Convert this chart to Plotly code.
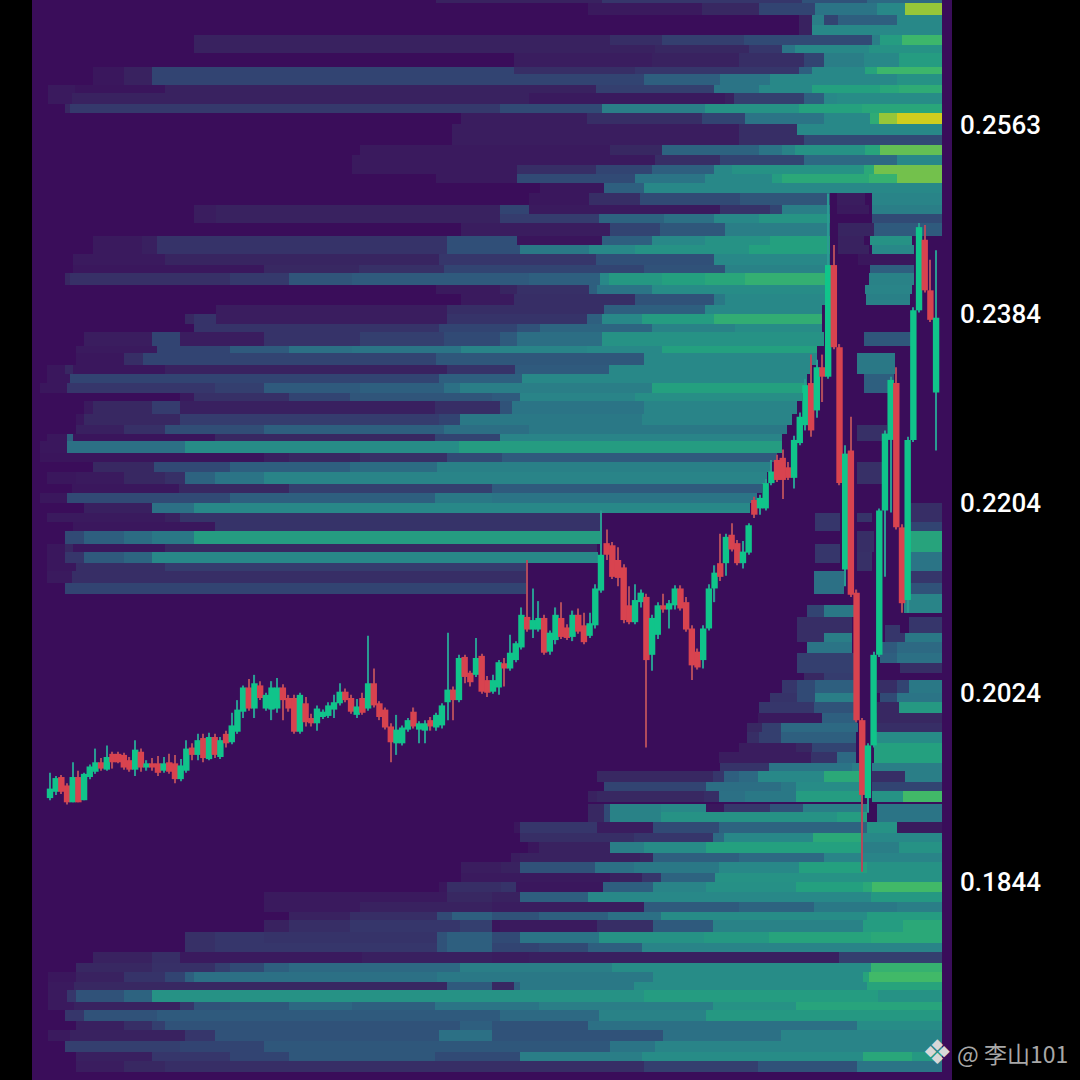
import plotly.graph_objects as go

# price band edges, top to bottom, in units of 0.0001
band_edges = [2681.6,2678.8,2667.4,2657.9,2648.4,2638.9,2631.3,2618.0,2611.4,2600.9,2593.3,2582.9,2574.3,2563.9,2553.4,
2544.0,2534.5,2525.0,2516.4,2507.9,2498.4,2487.0,2478.4,2469.9,2457.6,2449.0,2440.5,2430.0,2422.4,2411.0,2402.5,2392.1,
2383.5,2374.0,2366.4,2353.1,2346.5,2335.1,2326.6,2318.0,2308.5,2300.9,2288.6,2278.1,2269.6,2263.0,2251.6,2243.0,2233.5,
2222.1,2213.6,2204.1,2194.6,2186.1,2177.5,2165.2,2157.6,2147.2,2139.5,2128.2,2117.7,2107.3,2099.7,2095.9,2088.3,2080.7,
2072.1,2061.7,2052.2,2042.7,2036.1,2023.7,2015.2,2004.8,1995.3,1986.7,1976.3,1967.7,1957.3,1949.7,1939.2,1930.7,1920.3,
1918.4,1910.8,1901.3,1890.8,1882.3,1871.9,1863.3,1852.9,1844.3,1834.8,1825.3,1815.8,1808.2,1796.9,1786.4,1777.9,1767.4,1758.9,
1749.4,1741.8,1730.4,1722.8,1712.4,1703.8,1693.4,1683.0,1674.4,1664.0,1656.4]

# per band: (time, intensity) steps; each holds until the next step
heat_rows = [
[(404,.08),(570,.15),(770,.25),(835,.35)],
[(556,.05),(670,.1),(727,.2),(783,.4),(845,.5),(873,.92)],
[(767,.08),(780,.45),(792,.2),(806,.3),(865,.5)],
[(767,.08),(780,.5)],
[(162,.08),(578,.12),(630,.18),(712,.22),(840,.45),(848,.6),(870,.78)],
[(162,.08),(623,.1),(717,.15),(750,.4),(763,.5),(837,.55)],
[(482,.06),(620,.08),(707,.12),(772,.2),(792,.45),(832,.5),(867,.6)],
[(61,.04),(92,.08),(120,.2),(482,.12),(603,.15),(767,.3),(780,.5),(833,.65),(845,.78)],
[(61,.04),(92,.08),(120,.2),(612,.3),(688,.4),(738,.5),(865,.55)],
[(16,.05),(43,.03),(133,.08),(564,.18),(682,.4),(727,.5),(780,.62),(848,.68),(867,.72)],
[(16,.05),(40,.08),(497,.05),(693,.08),(702,.18),(772,.3),(792,.5),(805,.52)],
[(33,.1),(38,.16),(468,.22),(570,.45),(673,.55),(767,.63),(830,.68)],
[(429,.06),(555,.12),(670,.2),(713,.4),(792,.5),(838,.72),(847,.92),(865,1)],
[(420,.06),(707,.12),(765,.5)],
[(420,.06),(707,.12),(772,.22)],
[(328,.05),(578,.1),(630,.32),(727,.4),(750,.47),(763,.55),(833,.66),(848,.85)],
[(320,.05),(623,.12),(688,.2),(772,.35),(865,.5)],
[(320,.05),(485,.12),(564,.2),(620,.3),(682,.5),(700,.55),(832,.7),(842,.87)],
[(404,.05),(485,.22),(603,.4),(673,.5),(740,.6),(750,.7),(837,.75),(865,.87)],
[(508,.04),(572,.3),(612,.5)],
[(497,.04),(557,.12),(608,.22),(708,.26),(798,0),(805,.06),(833,0),(840,.48)],
[(162,.06),(184,.08),(468,.2),(497,.05),(688,.14),(738,.2),(750,.45),(798,0),(805,.05),(837,0),(840,.45)],
[(162,.06),(184,.08),(468,.17),(567,.32),(632,.38),(682,.5),(727,.56),(798,0),(840,.22)],
[(429,.06),(578,.2),(628,.27),(693,.45),(798,0),(806,.09),(842,.28)],
[(61,.05),(110,.07),(125,.14),(415,.24),(485,.03),(570,.3),(620,.5),(673,.55),(738,.62),(798,0),(806,.08),(832,0),(838,.55),(880,0)],
[(61,.05),(110,.07),(125,.14),(415,.24),(488,.42),(557,.5),(603,.55),(717,.62),(798,0),(806,.08),(837,0),(840,.5),(882,0)],
[(41,.05),(133,.09),(407,.15),(564,.24),(682,.5),(798,0),(826,.04),(882,0)],
[(41,.04),(232,.1),(327,.13),(412,.2),(612,.25),(693,.47),(798,0),(838,.3),(882,0)],
[(33,.1),(38,.13),(198,.16),(257,.26),(320,.28),(497,.3),(568,.5),(577,.58),(630,.62),(673,.68),(713,.74),(795,0),(837,.47),(882,0)],
[(404,.05),(468,.09),(485,.13),(557,.3),(565,.4),(620,.52),(795,0),(833,.48),(880,0)],
[(429,.05),(482,.12),(603,.25),(682,.42),(693,.5),(795,0),(834,.46),(878,0)],
[(184,.06),(415,.12),(572,.3),(673,.5),(790,0)],
[(153,.1),(162,.14),(184,.06),(415,.14),(555,.3),(570,.5),(610,.6),(682,.73),(790,0)],
[(162,.14),(407,.2),(485,.25),(508,.33),(620,.47),(703,.52),(790,0)],
[(52,.06),(120,.2),(148,.06),(232,.14),(328,.18),(412,.22),(468,.28),(485,.37),(570,.55),(792,0),(832,.27),(880,0)],
[(44,.05),(125,.2),(198,.28),(257,.38),(320,.4),(429,.48),(555,.5),(630,.62),(785,0)],
[(44,.04),(92,.12),(111,.2),(404,.27),(612,.5),(785,0),(825,.42),(863,0)],
[(15,.04),(33,.1),(41,.04),(133,.08),(415,.14),(483,.28),(577,.5),(780,0),(825,.42),(863,0)],
[(15,.04),(38,.2),(407,.3),(490,.5),(775,0),(832,.3),(862,0)],
[(8,.04),(35,.15),(183,.18),(232,.28),(328,.3),(412,.38),(428,.45),(620,.62),(775,0),(832,.3),(862,0)],
[(148,.05),(162,.13),(257,.2),(318,.26),(460,.28),(488,.48),(603,.53),(770,0)],
[(52,.05),(61,.1),(120,.17),(148,.07),(403,.12),(468,.25),(480,.4),(612,.48),(765,0)],
[(44,.04),(52,.1),(148,.17),(407,.2),(428,.42),(610,.48),(760,0)],
[(44,.07),(92,.13),(133,.23),(232,.3),(412,.37),(497,.42),(755,0),(825,.13),(855,0)],
[(15,.04),(35,.3),(41,.03),(183,.1),(403,.2),(468,.48),(750,0),(825,.13),(855,0)],
[(8,.04),(35,.38),(153,.52),(427,.6),(750,0)],
[(8,.03),(232,.07),(257,.1),(328,.13),(415,.22),(470,.28),(745,0)],
[(61,.1),(122,.22),(198,.3),(318,.36),(405,.46),(740,0),(825,.13),(850,0)],
[(15,.04),(44,.05),(92,.1),(133,.13),(153,.32),(183,.4),(232,.48),(735,0),(825,.13),(850,0)],
[(40,.04),(147,.1),(257,.18),(460,.28),(730,0)],
[(8,.04),(35,.22),(198,.3),(403,.42),(460,.4),(725,0)],
[(52,.07),(120,.38),(162,.5),(718,0),(877,.12)],
[(15,.05),(133,.08),(148,.14),(568,0),(783,.15),(808,0),(825,.14),(840,0),(877,.12)],
[(41,.04),(183,.14),(568,0),(783,.15),(808,0),(877,.2)],
[(33,.22),(52,.3),(92,.36),(120,.42),(162,.6),(570,0),(825,.12),(842,0),(877,.65)],
[(15,.04),(33,.1),(41,.04),(133,.1),(565,0),(783,.15),(808,0),(825,.12),(842,0),(877,.65)],
[(15,.04),(33,.15),(52,.28),(92,.33),(120,.5),(566,0),(783,.15),(808,0),(825,.13),(840,0),(877,.4)],
[(15,.04),(44,.12),(133,.17),(496,0),(825,.13),(840,0),(877,.4)],
[(15,.05),(40,.12),(496,0),(782,.38),(812,0),(877,.15)],
[(33,.2),(496,0),(782,.38),(812,0),(877,.25)],
[(872,.48)],
[(775,.2),(792,.42),(822,0),(872,.48)],
[(775,.2),(792,.42),(822,0)],
[(765,.12),(820,0),(877,.15)],
[(765,.12),(820,0),(853,.15),(868,0),(877,.15)],
[(765,.12),(792,.45),(820,0),(853,.15),(873,.42)],
[(775,.4),(820,0),(848,.28),(865,.35)],
[(765,.18),(822,0),(848,.3),(865,.38)],
[(765,.18),(822,0),(868,.12)],
[(772,.1),(792,.17),(822,0)],
[(750,.15),(765,.22),(783,.3),(822,0),(845,.12),(865,.2),(877,.42)],
[(738,.14),(765,.22),(783,.45),(822,0),(848,.22),(865,.4)],
[(727,.15),(782,.25),(825,0),(845,.1),(867,.58)],
[(726,.05),(790,.3),(825,0),(842,.1)],
[(715,.1),(730,.18),(749,.35),(826,0),(842,.12)],
[(715,.12),(727,.18),(749,.3),(824,0),(842,.52)],
[(707,.06),(764,.1),(780,.2),(824,0),(842,.62)],
[(687,.06),(779,.14),(805,.35),(824,0),(842,.62)],
[(688,.14),(737,.4),(820,.45),(830,0),(840,.45)],
[(565,.1),(681,.15),(692,.3),(707,.35),(726,.5),(792,.7),(830,0),(840,.12),(873,.45)],
[(572,.2),(674,.37),(749,.42),(764,.52),(830,0),(840,.2)],
[(556,.08),(565,.1),(672,.12),(687,.38),(713,.42),(764,.6),(830,0),(840,.55),(871,.8)],
[],
[(556,.1),(572,.22),(578,.47),(629,.5),(674,.04),(692,.15),(738,.25),(771,.45),(835,0),(845,.4)],
[(556,.1),(572,.22),(578,.47),(629,.55),(805,.6),(835,0),(845,.4)],
[(482,.04),(488,.15),(565,.06),(621,.22),(687,.32),(835,.55),(865,.05)],
[(488,.12),(602,.15),(681,.35),(692,.5),(781,.7),(831,.5)],
[(496,.04),(507,.08),(578,.45),(612,.52),(674,.62),(831,.45),(867,.55)],
[(479,.06),(488,.08),(608,.1),(621,.3),(707,.35),(792,.48)],
[(429,.06),(469,.08),(488,.25),(563,.38),(602,.42),(687,.5),(767,.62),(835,.55)],
[(429,.05),(578,.08),(610,.15),(629,.32),(683,.55)],
[(407,.04),(415,.12),(469,.14),(484,.04),(571,.3),(621,.48),(674,.54),(764,.62),(831,.7),(840,.8)],
[(232,.05),(407,.05),(415,.1),(460,.08),(488,.3),(556,.5),(839,.58)],
[(232,.05),(328,.08),(460,.06),(612,.28),(707,.32),(782,.42),(865,.45)],
[(257,.08),(318,.12),(405,.22),(420,.3),(460,.25),(507,.3),(576,.38),(629,.52),(835,.6)],
[(232,.08),(257,.12),(318,.15),(428,.18),(460,.03),(468,.05),(565,.12),(621,.28),(681,.47),(831,.6),(871,.7)],
[(153,.13),(183,.15),(232,.14),(405,.25),(415,.3),(460,.22),(488,.4),(567,.55),(672,.58),(737,.65),(839,.7)],
[(153,.13),(183,.15),(405,.25),(415,.3),(460,.2),(507,.22),(556,.3),(610,.48)],
[(61,.08),(120,.12),(148,.05),(330,.07),(460,.06),(497,.07),(807,.18)],
[(44,.1),(120,.13),(183,.18),(198,.22),(232,.3),(257,.35),(428,.45),(580,.52),(839,.75)],
[(16,.04),(44,.08),(92,.14),(133,.2),(153,.3),(162,.38),(405,.42),(621,.52),(831,.65),(837,.8)],
[(16,.05),(42,.1),(415,.28),(460,.1),(482,.3),(488,.42),(602,.52),(835,.65)],
[(16,.05),(35,.15),(44,.25),(92,.32),(120,.55),(612,.6),(846,.55)],
[(16,.05),(42,.08),(148,.15),(162,.25),(198,.27),(257,.34),(320,.3),(403,.4),(507,.45),(681,.55),(764,.66)],
[(33,.15),(52,.25),(125,.28),(468,.35),(567,.47),(674,.58)],
[(44,.07),(92,.12),(120,.18),(133,.25),(428,.3),(460,.25),(556,.38),(825,.52)],
[(16,.05),(38,.08),(153,.15),(183,.25),(407,.38),(460,.25),(631,.38),(749,.48)],
[(33,.18),(148,.2),(232,.27),(578,.4),(623,.48)],
[(44,.07),(120,.15),(198,.2),(257,.27),(403,.22),(488,.45),(610,.52),(831,.68),(880,.58)],
[(44,.06),(92,.1),(133,.12),(612,.18),(726,.25),(825,.4)],
[],
]
assert len(heat_rows) == len(band_edges) - 1, (len(heat_rows), len(band_edges))

opens = [1924,1930,1944,1936,1920,1944,1922,1944,1949,1958,1951,1966,1966,1965,1960,1951,1968,1953,1957,1957,
1950,1958,1957,1942,1950,1972,1965,1981,1961,1982,1963,1985,1977,1987,2006,2029,2009,2031,2009,2008,
2009,2029,2019,2019,1987,2014,2000,1995,2001,2002,2008,2014,2025,2019,2003,2019,2009,2033,2014,2008,
1992,1976,1976,1989,2006,1989,1988,1998,1991,1993,2015,2027,2017,2058,2043,2041,2059,2036,2025,2029,
2052,2047,2055,2067,2096,2084,2084,2095,2063,2074,2095,2086,2077,2098,2088,2078,2088,2121,2166,2164,
2150,2143,2107,2091,2110,2115,2060,2079,2107,2103,2107,2123,2110,2085,2063,2055,2085,2123,2147,2147,
2174,2166,2147,2157,2207,2199,2199,2223,2245,2247,2238,2228,2261,2278,2318,2292,2333,2324,2430,2352,
2141,2254,2119,1998,1924,1974,2060,2197,2264,2318,2181,2112,2264,2387,2454,2406,2309]
highs = [1948,1945,1946,1938,1958,1950,1948,1956,1971,1962,1974,1968,1968,1967,1963,1979,1971,1960,1962,1964,
1963,1966,1965,1961,1979,1976,1985,1985,1986,1985,1982,1988,2005,2017,2031,2037,2041,2035,2024,2035,
2038,2032,2022,2022,2024,2020,2004,2012,2008,2015,2022,2033,2028,2022,2018,2024,2078,2047,2016,2010,
1995,2003,1993,2000,2010,1997,1998,2001,2005,2014,2081,2030,2060,2060,2045,2076,2061,2040,2041,2055,
2057,2079,2073,2105,2150,2123,2111,2098,2083,2105,2110,2089,2102,2104,2100,2100,2127,2197,2179,2167,
2162,2146,2125,2127,2122,2118,2098,2110,2118,2112,2126,2126,2115,2088,2066,2088,2127,2145,2175,2175,
2185,2169,2168,2185,2210,2212,2227,2245,2250,2255,2243,2268,2290,2322,2345,2340,2345,2498,2449,2355,
2259,2286,2122,2000,1976,2063,2199,2273,2324,2333,2184,2267,2390,2470,2468,2435,2444]
lows = [1922,1927,1928,1918,1920,1920,1922,1942,1947,1950,1950,1952,1957,1951,1949,1945,1949,1950,1950,1945,
1948,1947,1938,1940,1948,1960,1960,1958,1960,1962,1961,1972,1975,1985,2000,2007,2000,2017,2007,1998,
2005,1998,2006,1985,1985,1992,1992,1988,1999,2000,2000,2012,2015,2004,2000,2003,2007,2010,1998,1989,
1958,1965,1974,1987,1990,1976,1976,1988,1988,1990,1998,1998,2015,2033,2030,2039,2023,2020,2023,2022,
2030,2045,2053,2065,2082,2076,2082,2060,2060,2070,2075,2074,2073,2080,2070,2076,2085,2119,2150,2132,
2125,2090,2089,2089,2105,1972,2045,2075,2100,2085,2103,2102,2082,2036,2046,2047,2083,2110,2130,2135,
2158,2145,2142,2155,2190,2193,2197,2221,2224,2208,2226,2218,2259,2273,2267,2285,2300,2322,2350,2221,
2125,2115,1996,1854,1910,1972,2058,2134,2195,2179,2100,2100,2262,2385,2404,2376,2254]
closes = [1933,1943,1930,1920,1944,1920,1947,1954,1958,1952,1963,1958,1958,1953,1951,1970,1953,1957,1953,1948,
1957,1949,1942,1955,1971,1965,1979,1962,1982,1965,1979,1976,1993,2008,2029,2009,2033,2019,2022,2029,
2029,2017,2009,1987,2022,1996,1995,2009,2006,2012,2015,2025,2017,2006,2011,2005,2033,2012,2001,1991,
1977,1989,1991,1998,1992,1995,1995,1992,2003,2012,2027,2017,2057,2039,2034,2057,2025,2024,2036,2053,
2047,2062,2071,2098,2084,2093,2095,2062,2081,2098,2077,2076,2098,2082,2072,2090,2123,2155,2155,2134,
2133,2093,2091,2112,2119,2055,2095,2107,2103,2109,2123,2104,2084,2050,2048,2085,2123,2138,2134,2172,
2160,2147,2158,2183,2193,2209,2223,2234,2226,2226,2228,2264,2286,2316,2273,2333,2324,2430,2352,2223,
2251,2117,1998,1927,1974,2060,2197,2270,2321,2181,2109,2264,2387,2466,2406,2378,2380]

tick_prices = [0.2563, 0.2384, 0.2204, 0.2024, 0.1844, 0.1665]
tick_labels = ["0.2563", "0.2384", "0.2204", "0.2024", "0.1844", "0.1665"]

first_bar_time = 18.0
bar_step = 5.68
heat_end = 910
GREEN, RED = "#10c48a", "#d8434f"
GREEN_WICK, RED_WICK = "#2a9a92", "#b04a5c"

bar_times = [first_bar_time + bar_step * i for i in range(len(opens))]

time_edges = sorted({0, heat_end} | {t for row in heat_rows for t, _ in row})
y_edges = [p / 10000 for p in reversed(band_edges)]
z = []
for row in reversed(heat_rows):
    cells = []
    for left in time_edges[:-1]:
        v = 0
        for t, val in row:
            if t <= left:
                v = val
        cells.append(v)
    z.append(cells)

colorscale = [[0, "#3a0d5a"], [0.05, "#3a1a5e"], [0.1, "#382862"], [0.15, "#36366b"], [0.22, "#314a75"],
              [0.3, "#2e5f7f"], [0.4, "#2b7486"], [0.5, "#288888"], [0.55, "#269285"], [0.62, "#24a07f"],
              [0.7, "#2ba878"], [0.8, "#41b968"], [0.9, "#88c440"], [1, "#d0cd1e"]]

up = [c >= o for o, c in zip(opens, closes)]
fig = go.Figure()
fig.add_trace(go.Heatmap(x=time_edges, y=y_edges, z=z, zmin=0, zmax=1, colorscale=colorscale,
                         showscale=False, hoverinfo="skip"))
# wicks, high to low
fig.add_trace(go.Bar(x=bar_times, base=[v / 10000 for v in lows], y=[(h - l) / 10000 for h, l in zip(highs, lows)],
                     width=1.2, marker=dict(color=[GREEN_WICK if u else RED_WICK for u in up], line=dict(width=0)),
                     hoverinfo="skip", showlegend=False))
# bodies, open to close
fig.add_trace(go.Bar(x=bar_times, base=[min(o, c) / 10000 for o, c in zip(opens, closes)],
                     y=[abs(c - o) / 10000 for o, c in zip(opens, closes)],
                     width=6.4, marker=dict(color=[GREEN if u else RED for u in up], line=dict(width=0)),
                     hoverinfo="skip", showlegend=False))

fig.update_layout(
    width=1080, height=1080, margin=dict(l=32, r=128, t=0, b=0),
    paper_bgcolor="#000000", plot_bgcolor="#3a0d5a", showlegend=False, barmode="overlay",
    xaxis=dict(range=[0, 920], visible=False, showgrid=False, zeroline=False),
    yaxis=dict(range=[0.16564, 0.26816], side="right", tickmode="array", tickvals=tick_prices, ticktext=tick_labels,
               showgrid=False, zeroline=False, showline=False, ticks="", ticklabelstandoff=7,
               tickfont=dict(family="Roboto", size=26, color="#ffffff", weight=500)),
    annotations=[
        dict(text="❖", xref="paper", yref="paper", x=(937 - 32) / 920, y=1 - 1052 / 1080, showarrow=False,
             xanchor="center", yanchor="middle", font=dict(family="DejaVu Sans", size=34, color="#d8d8d8")),
        dict(text="@ 李山101", xref="paper", yref="paper", x=(955 - 32) / 920, y=1 - 1053 / 1080, showarrow=False,
             xanchor="left", yanchor="middle", font=dict(family="Noto Sans CJK SC", size=23, color="#a8a8a8")),
    ],
)
fig.write_html("out.html", config={"displayModeBar": False},
               post_script="document.body.style.margin='0';document.body.style.background='#000';document.documentElement.style.overflow='hidden';")
